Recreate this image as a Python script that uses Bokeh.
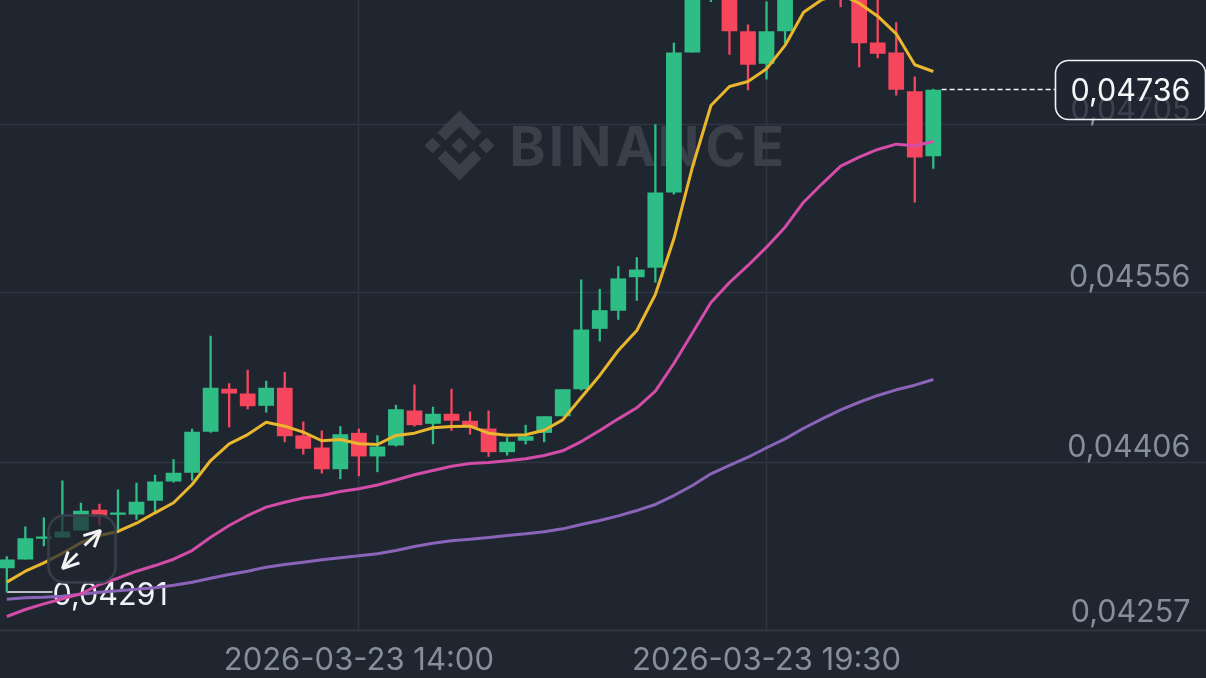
from bokeh.plotting import figure
from bokeh.embed import file_html
from bokeh.resources import INLINE
from bokeh.core.properties import value
from bokeh.models import BoxAnnotation, Arrow, OpenHead, FixedTicker, ColumnDataSource, Label

# 15-minute candles, index 0..50
ups = [1,1,1,1,1,0,1,1,1,1,1,1,0,0,1,0,0,0,1,0,1,1,0,1,0,0,0,1,1,1,1,1,1,1,1,1,1,1,1,0,0,1,1,1,0,0,0,0,0,0,1]
body_top = [0.043199,0.043387,0.043402,0.043447,0.04363,0.043639,0.043615,0.043709,0.043889,0.043966,0.044329,0.044719,0.04471,0.044668,0.044719,0.044719,0.044297,0.04419,0.044308,0.04432,0.044199,0.044529,0.044518,0.044489,0.044489,0.044427,0.044358,0.044241,0.04429,0.044467,0.044706,0.045235,0.045406,0.045687,0.045766,0.046448,0.047688,0.048254,0.048484,0.048272,0.047876,0.047876,0.04829,0.048502,0.04852,0.048414,0.048237,0.047776,0.047688,0.047345,0.047357]
body_bot = [0.043122,0.043199,0.043382,0.043393,0.043455,0.043588,0.043594,0.043597,0.043718,0.043889,0.043966,0.044329,0.044668,0.044556,0.044559,0.04429,0.044179,0.043998,0.043998,0.044111,0.044111,0.044208,0.044388,0.0444,0.044427,0.04437,0.044149,0.044149,0.04425,0.04432,0.044467,0.044706,0.045241,0.045401,0.045698,0.045781,0.046448,0.047688,0.048272,0.047876,0.047579,0.047588,0.047876,0.048272,0.048307,0.048237,0.04777,0.047676,0.047357,0.046758,0.046769]
highs = [0.043228,0.043491,0.04357,0.043898,0.043701,0.043692,0.043818,0.043878,0.043949,0.044087,0.044356,0.045179,0.04476,0.044878,0.044781,0.04486,0.04442,0.044341,0.044379,0.044358,0.044299,0.044568,0.044748,0.044551,0.04471,0.044509,0.044518,0.044281,0.044391,0.044467,0.044706,0.045678,0.045595,0.045796,0.045875,0.047053,0.047773,0.048396,0.048591,0.048378,0.047936,0.048139,0.048414,0.048608,0.048626,0.048538,0.048325,0.048201,0.047956,0.047475,0.047366]
lows = [0.042909,0.043199,0.043316,0.043393,0.043455,0.0435,0.043462,0.04355,0.043617,0.04388,0.043898,0.04432,0.04437,0.044529,0.0445,0.044237,0.044128,0.04396,0.04391,0.043936,0.043972,0.044199,0.044376,0.044219,0.044338,0.044305,0.044108,0.044119,0.044217,0.044237,0.044467,0.044695,0.045129,0.045321,0.045489,0.045651,0.04643,0.047688,0.048135,0.047667,0.047354,0.047449,0.047765,0.048183,0.048192,0.048089,0.047557,0.047637,0.047307,0.046359,0.046658]
ema_7 = [0.042998,0.043095,0.043169,0.043254,0.043347,0.043411,0.043447,0.04352,0.043612,0.043701,0.043863,0.044075,0.044223,0.044305,0.044414,0.044379,0.044326,0.04425,0.044261,0.044223,0.044217,0.044297,0.044317,0.044365,0.044376,0.044379,0.044317,0.044299,0.044303,0.044343,0.044435,0.044633,0.044828,0.045049,0.045226,0.045545,0.046038,0.046672,0.047218,0.047387,0.047431,0.047543,0.04775,0.048044,0.048157,0.048201,0.048124,0.048009,0.047853,0.047579,0.047519]
ema_25 = [0.042694,0.042756,0.042806,0.042851,0.042895,0.042977,0.043033,0.043095,0.043145,0.043201,0.043278,0.043396,0.0435,0.043588,0.043662,0.043706,0.043743,0.043765,0.043801,0.043825,0.043858,0.043902,0.043949,0.043987,0.044025,0.044049,0.044057,0.044072,0.04409,0.044119,0.044161,0.044243,0.044341,0.044444,0.044542,0.044689,0.044934,0.045204,0.045474,0.045651,0.045802,0.045964,0.046141,0.046362,0.046525,0.046681,0.046761,0.046829,0.046876,0.046862,0.0469]
ema_99 = [0.042847,0.04286,0.042865,0.042874,0.042891,0.042909,0.042921,0.042936,0.042948,0.042971,0.042998,0.043033,0.043066,0.043095,0.04313,0.043154,0.043175,0.043196,0.043214,0.043231,0.043249,0.043278,0.043314,0.043343,0.043364,0.043378,0.043393,0.043411,0.043426,0.043444,0.04347,0.043508,0.043544,0.043585,0.043632,0.043686,0.043765,0.043854,0.043957,0.044031,0.044104,0.044188,0.044267,0.044361,0.044444,0.044524,0.044591,0.044651,0.044701,0.044742,0.044792]
price_ticks = [0.04705, 0.04556, 0.04406, 0.04257]
price_labels = ["0,04705", "0,04556", "0,04406", "0,04257"]
time_ticks = [19, 41]
time_labels = ["2026-03-23 14:00", "2026-03-23 19:30"]
last_price = 0.04736
last_label = "0,04736"
low_price = 0.04291
low_label = "0,04291"
brand = list("BINANCE")

BG = "#1F2630"
GRID = "#2F3640"
UP = "#2EBD85"
DOWN = "#F6465D"
GREY = "#878E9B"
MARK = "#3A3F4A"
FONT = value("Inter")
LIGHT = "#F2F3F5"

PAD = 1  # canvas starts one pixel outside the window
W, H, PLOT_H = 1206 + PAD, 678 + PAD, 630 + PAD
PX_X = 18.53
x0 = -0.34 - PAD / PX_X
x1 = x0 + W / PX_X
y0 = 0.04257
y1 = 0.04705 + (124 + PAD) * 8.854e-6

def X(px):
    return x0 + (px + PAD) / W * (x1 - x0)

def Y(py):
    return y0 + (PLOT_H - PAD - py) / PLOT_H * (y1 - y0)

p = figure(width=W, height=H, frame_width=W, frame_height=PLOT_H,
           x_range=(x0, x1), y_range=(y0, y1),
           output_backend="svg", toolbar_location=None,
           min_border=0, min_border_bottom=H - PLOT_H,
           background_fill_color=BG, border_fill_color=BG, outline_line_color=None)
p.styles = {"position": "fixed", "left": "-1px", "top": "-1px"}

p.yaxis.visible = False
ax = p.xaxis[0]
ax.ticker = FixedTicker(ticks=time_ticks)
ax.major_label_overrides = dict(zip(time_ticks, time_labels))
ax.major_label_text_font = "Inter"
ax.major_label_text_font_size = "31px"
ax.major_label_text_color = GREY
ax.major_label_standoff = 3
ax.major_tick_line_color = None
ax.minor_tick_line_color = None
ax.axis_line_color = GRID
ax.axis_line_width = 2
p.xgrid.ticker = FixedTicker(ticks=time_ticks)
p.ygrid.ticker = FixedTicker(ticks=price_ticks)
p.xgrid.grid_line_color = GRID
p.ygrid.grid_line_color = GRID
p.xgrid.grid_line_width = 1.5
p.ygrid.grid_line_width = 1.5

# watermark
def diamond(cx, cy, r):
    return [X(cx - r), X(cx), X(cx + r), X(cx)], [Y(cy), Y(cy - r), Y(cy), Y(cy + r)]

def chevron(cx, cy, sign):
    xs = [cx, cx + 22, cx + 14, cx, cx - 14, cx - 22]
    ys = [cy - 35 * sign, cy - 13 * sign, cy - 5 * sign, cy - 19 * sign, cy - 5 * sign, cy - 13 * sign]
    return [X(a) for a in xs], [Y(b) for b in ys]

pieces = [diamond(432, 145, 8), diamond(459, 145, 8), diamond(486, 145, 8),
          chevron(459, 145, 1), chevron(459, 145, -1)]
p.patches([a for a, _ in pieces], [b for _, b in pieces], fill_color=MARK, line_color=None)
brand_px = [527, 556, 590, 635, 678, 725, 767]
p.text([X(v) for v in brand_px], [Y(145)] * 7, text=brand, text_font=FONT,
       text_font_style="bold", text_font_size="55px", text_color=MARK,
       text_align="center", text_baseline="middle")

# price axis labels
p.text([X(1190)] * 4, price_ticks, text=price_labels, text_font=FONT, text_font_size="30.5px",
       text_color=GREY, text_align="right", text_baseline="middle",
       y_offset=[-16, -17, -17, -20])

# min price marker
p.text([X(52)], [low_price], text=[low_label], text_font=FONT, text_font_size="30.5px",
       text_color=LIGHT, text_align="left", text_baseline="middle", y_offset=1)
p.segment([0], [low_price], [X(52)], [low_price], line_color=LIGHT, line_width=1.5)

# candles
idx = list(range(len(ups)))
src = ColumnDataSource(dict(x=idx, top=body_top, bottom=body_bot, high=highs, low=lows,
                            color=[UP if u else DOWN for u in ups]))
p.segment("x", "high", "x", "low", source=src, line_color="color", line_width=2.3)
p.vbar("x", 0.85, "bottom", "top", source=src, fill_color="color", line_color=None)

# moving averages
p.line(idx, ema_99, line_color="#8B64B9", line_width=3)
p.line(idx, ema_25, line_color="#D24CA8", line_width=3)
p.line(idx, ema_7, line_color="#E9B62D", line_width=3)

# last price tag
p.segment([idx[-1] + 0.45], [last_price], [X(1055)], [last_price], line_color=LIGHT,
          line_width=1.3, line_dash="5 3")
p.add_layout(BoxAnnotation(left=X(1055), right=X(1205), top=Y(60), bottom=Y(119),
                           fill_color=BG, fill_alpha=0.72, line_color=LIGHT, line_alpha=1,
                           line_width=1.6, border_radius=13, level="overlay"))
p.add_layout(BoxAnnotation(left=X(48), right=X(115), top=Y(515), bottom=Y(582),
                           fill_color=BG, fill_alpha=0.7, line_color="#393F4A", line_alpha=1,
                           line_width=2.5, border_radius=16, level="overlay"))
for a, b, c, d in [(77, 553, 62, 568), (84, 545, 100, 530)]:
    p.add_layout(Arrow(end=OpenHead(size=16, line_color=LIGHT, line_width=3),
                       x_start=X(a), y_start=Y(b), x_end=X(c), y_end=Y(d),
                       line_color=LIGHT, line_width=3, level="overlay"))

p.add_layout(Label(x=X(1190), y=last_price, text=last_label, text_font="Inter",
                   text_font_size="30.5px", text_color="#F5F6F8", text_align="right",
                   text_baseline="middle", level="overlay"))

open("out.html", "w").write(file_html(p, INLINE))
